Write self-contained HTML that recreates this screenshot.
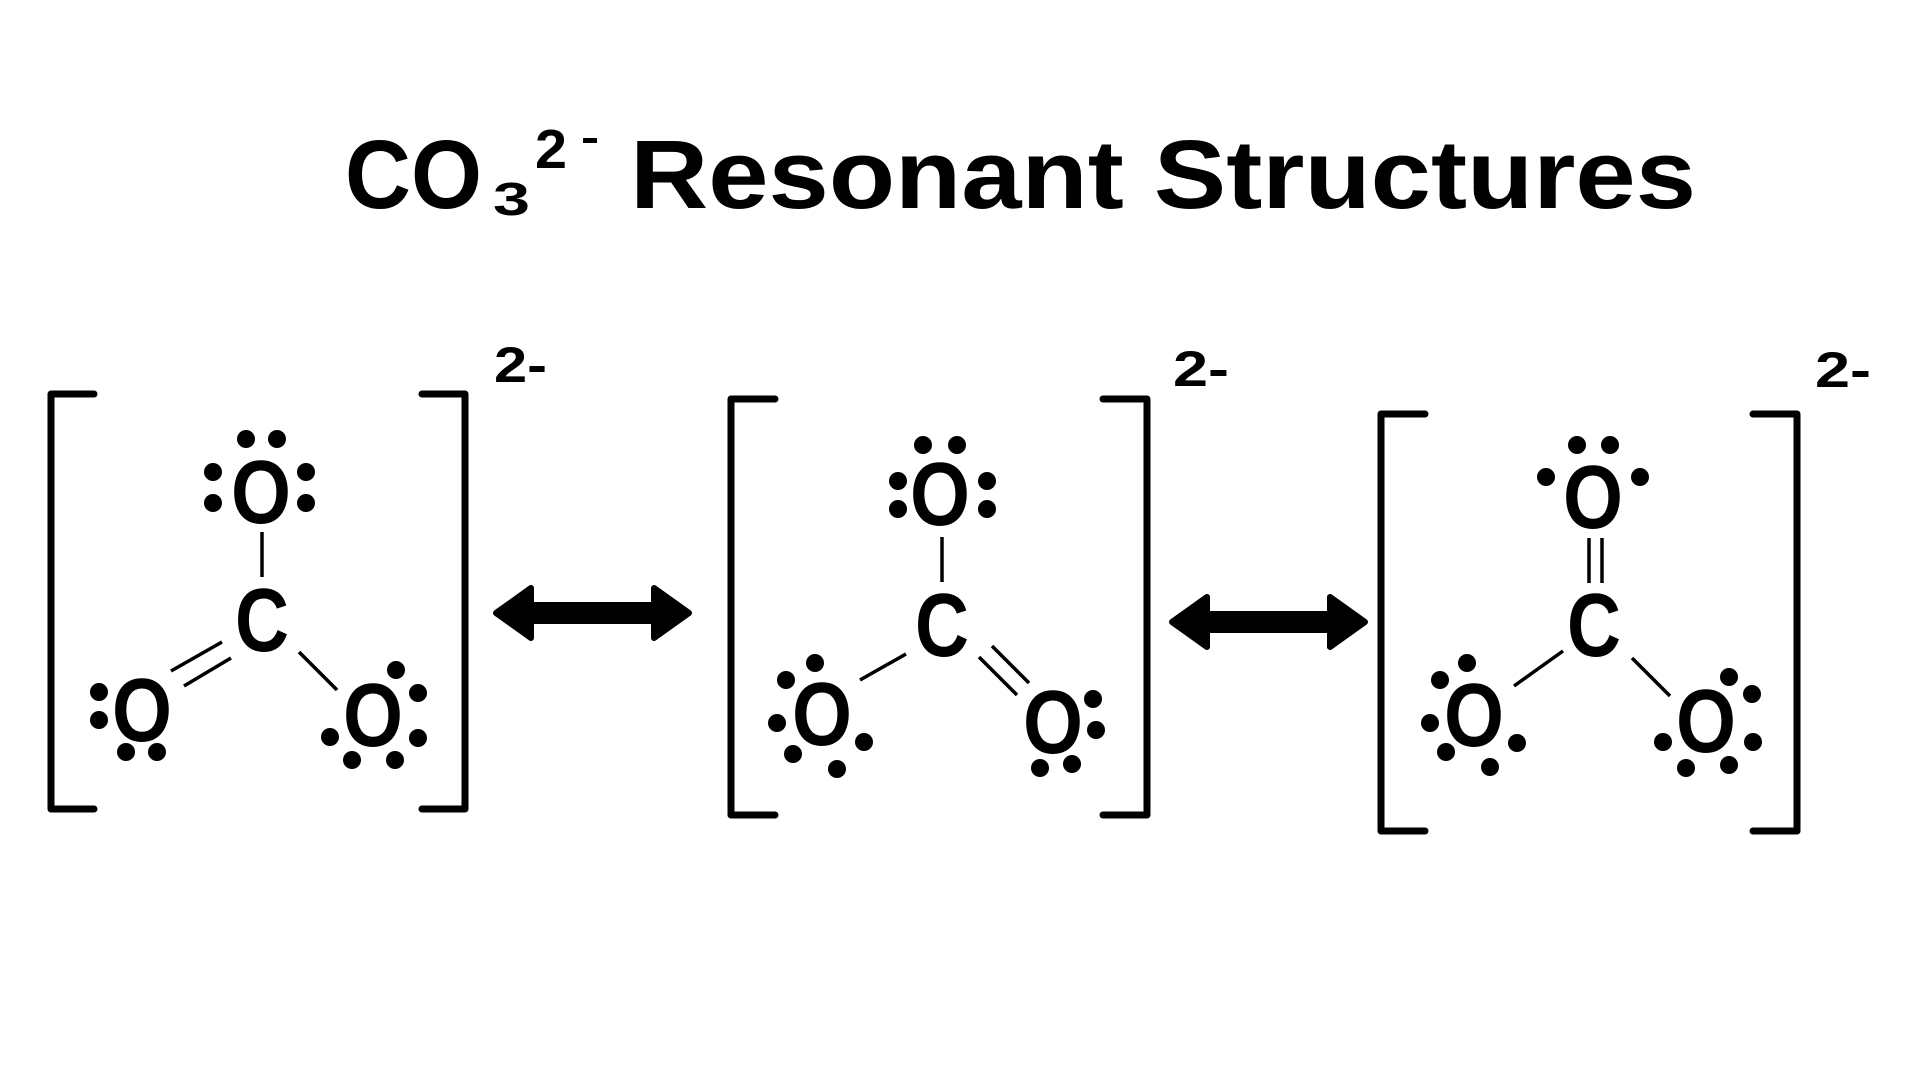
<!DOCTYPE html>
<html><head><meta charset="utf-8"><style>html,body{margin:0;padding:0;background:#fff;width:1920px;height:1080px;overflow:hidden}</style></head>
<body>
<svg width="1920" height="1080" viewBox="0 0 1920 1080" xmlns="http://www.w3.org/2000/svg" font-family="Liberation Sans, sans-serif">
<g font-weight="bold" fill="#000">
<text x="345" y="208" font-size="97" textLength="137" lengthAdjust="spacingAndGlyphs">CO</text>
<text x="493" y="215" font-size="46" textLength="37" lengthAdjust="spacingAndGlyphs">3</text>
<text x="535" y="168" font-size="55" textLength="32" lengthAdjust="spacingAndGlyphs">2</text>
<rect x="583" y="138" width="14" height="5"/>
<text x="630" y="208" font-size="97" textLength="1066" lengthAdjust="spacingAndGlyphs">Resonant Structures</text>
<text x="494" y="382" font-size="50" textLength="53" lengthAdjust="spacingAndGlyphs">2-</text>
<text x="1173" y="386" font-size="50" textLength="56" lengthAdjust="spacingAndGlyphs">2-</text>
<text x="1815" y="387" font-size="50" textLength="56" lengthAdjust="spacingAndGlyphs">2-</text>
</g>
<g fill="none" stroke="#000" stroke-width="7" stroke-linecap="round" stroke-linejoin="round">
<path d="M94 394 H51 V809 H94"/><path d="M422 394 H465 V809 H422"/>
<path d="M775 399 H731 V815 H775"/><path d="M1103 399 H1147 V815 H1103"/>
<path d="M1425 414 H1381 V831 H1425"/><path d="M1753 414 H1797 V831 H1753"/>
</g>
<g fill="#000" stroke="#000" stroke-linejoin="round" stroke-width="6">
<path d="M496 613 L531 588 V605 H654 V588 L689 613 L654 638 V621 H531 V638 Z"/>
<path d="M1172 622 L1207 597 V614 H1330 V597 L1365 622 L1330 647 V630 H1207 V647 Z"/>
</g>
<g stroke="#000" stroke-width="3.5">
<line x1="262" y1="532" x2="262" y2="577"/>
<line x1="171" y1="671" x2="222" y2="642"/><line x1="184" y1="686" x2="231" y2="658"/>
<line x1="299" y1="652" x2="337" y2="690"/>
<line x1="942" y1="537" x2="942" y2="582"/>
<line x1="860" y1="680" x2="906" y2="654"/>
<line x1="979" y1="657" x2="1017" y2="695"/><line x1="992" y1="646" x2="1029" y2="683"/>
<line x1="1589" y1="538" x2="1589" y2="583"/><line x1="1602" y1="538" x2="1602" y2="583"/>
<line x1="1514" y1="686" x2="1563" y2="651"/>
<line x1="1632" y1="658" x2="1670" y2="696"/>
</g>
<g font-size="90" font-weight="bold" text-anchor="middle" fill="#000" lengthAdjust="spacingAndGlyphs">
<text x="261" y="523" textLength="60" lengthAdjust="spacingAndGlyphs">O</text><text x="262" y="651" textLength="54" lengthAdjust="spacingAndGlyphs">C</text><text x="142" y="741" textLength="60" lengthAdjust="spacingAndGlyphs">O</text><text x="373" y="746" textLength="60" lengthAdjust="spacingAndGlyphs">O</text>
<text x="940" y="525" textLength="60" lengthAdjust="spacingAndGlyphs">O</text><text x="942" y="656" textLength="54" lengthAdjust="spacingAndGlyphs">C</text><text x="822" y="745" textLength="60" lengthAdjust="spacingAndGlyphs">O</text><text x="1053" y="753" textLength="60" lengthAdjust="spacingAndGlyphs">O</text>
<text x="1593" y="528" textLength="60" lengthAdjust="spacingAndGlyphs">O</text><text x="1594" y="656" textLength="54" lengthAdjust="spacingAndGlyphs">C</text><text x="1474" y="746" textLength="60" lengthAdjust="spacingAndGlyphs">O</text><text x="1706" y="752" textLength="60" lengthAdjust="spacingAndGlyphs">O</text>
</g>
<g fill="#000">
<circle cx="246" cy="439" r="9"/><circle cx="277" cy="439" r="9"/><circle cx="213" cy="472" r="9"/><circle cx="213" cy="503" r="9"/><circle cx="306" cy="472" r="9"/><circle cx="306" cy="503" r="9"/>
<circle cx="99" cy="692" r="9"/><circle cx="99" cy="720" r="9"/><circle cx="126" cy="752" r="9"/><circle cx="157" cy="752" r="9"/>
<circle cx="396" cy="670" r="9"/><circle cx="418" cy="693" r="9"/><circle cx="418" cy="738" r="9"/><circle cx="330" cy="737" r="9"/><circle cx="352" cy="760" r="9"/><circle cx="395" cy="760" r="9"/>
<circle cx="923" cy="445" r="9"/><circle cx="957" cy="445" r="9"/><circle cx="898" cy="481" r="9"/><circle cx="898" cy="509" r="9"/><circle cx="987" cy="481" r="9"/><circle cx="987" cy="509" r="9"/>
<circle cx="815" cy="663" r="9"/><circle cx="786" cy="680" r="9"/><circle cx="777" cy="723" r="9"/><circle cx="793" cy="754" r="9"/><circle cx="837" cy="769" r="9"/><circle cx="864" cy="742" r="9"/>
<circle cx="1093" cy="699" r="9"/><circle cx="1096" cy="730" r="9"/><circle cx="1040" cy="768" r="9"/><circle cx="1072" cy="764" r="9"/>
<circle cx="1577" cy="445" r="9"/><circle cx="1610" cy="445" r="9"/><circle cx="1546" cy="477" r="9"/><circle cx="1640" cy="477" r="9"/>
<circle cx="1467" cy="663" r="9"/><circle cx="1440" cy="680" r="9"/><circle cx="1430" cy="723" r="9"/><circle cx="1446" cy="752" r="9"/><circle cx="1490" cy="767" r="9"/><circle cx="1517" cy="743" r="9"/>
<circle cx="1729" cy="677" r="9"/><circle cx="1752" cy="694" r="9"/><circle cx="1753" cy="742" r="9"/><circle cx="1663" cy="742" r="9"/><circle cx="1686" cy="768" r="9"/><circle cx="1729" cy="765" r="9"/>
</g>
</svg>
</body></html>
